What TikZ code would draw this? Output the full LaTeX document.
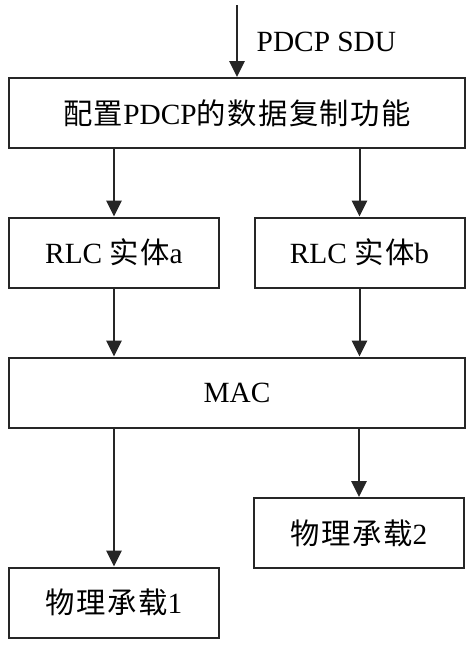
\documentclass[tikz,border=0pt]{standalone}
\usepackage{fontspec}
\setmainfont{Liberation Serif}
\newfontfamily\cjk[LetterSpace=5]{Noto Sans CJK SC}
\usetikzlibrary{arrows.meta, positioning}
\tikzset{
  % Box styles
  layerbox/.style={rectangle, draw=black!85, line width=1.5pt, minimum height=52.5pt, inner sep=0pt, font=\fontsize{22}{26}\selectfont, align=center},
  widebox/.style={layerbox, minimum width=342pt},
  halfbox/.style={layerbox, minimum width=157.5pt},
  % Arrow styles
  arrow/.style={-{Triangle[length=12pt, width=11.5pt]}, line width=1.5pt, black!85}
}

\begin{document}
\begin{tikzpicture}[x=0.75pt, y=-0.75pt]
  \useasboundingbox (0,0) rectangle (474,647);

  % Layers
  \node[widebox] (pdcp) at (237,113) {{\cjk 配置}PDCP{\cjk 的数据复制功能}};
  \node[halfbox] (rlca) at (114,252.5) {RLC {\cjk 实体}a};
  \node[halfbox] (rlcb) at (359.5,252.5) {RLC {\cjk 实体}b};
  \node[widebox] (mac) at (237,392.5) {MAC};
  \node[halfbox] (phy2) at (359,533) {{\cjk 物理承载}2};
  \node[halfbox] (phy1) at (114,602.5) {{\cjk 物理承载}1};

  % Input
  \coordinate (sdu) at (237,5);
  \draw[arrow] (sdu) -- (pdcp.north);
  \node[font=\fontsize{22}{26}\selectfont, anchor=west] (sdulabel) at (252,42) {PDCP SDU};

  % Arrows between layers
  \draw[arrow] (pdcp.south -| rlca) -- (rlca);
  \draw[arrow] (pdcp.south -| rlcb) -- (rlcb);
  \draw[arrow] (rlca) -- (mac.north -| rlca);
  \draw[arrow] (rlcb) -- (mac.north -| rlcb);
  \draw[arrow] (mac.south -| phy1) -- (phy1);
  \draw[arrow] (mac.south -| phy2) -- (phy2);
\end{tikzpicture}
\end{document}
